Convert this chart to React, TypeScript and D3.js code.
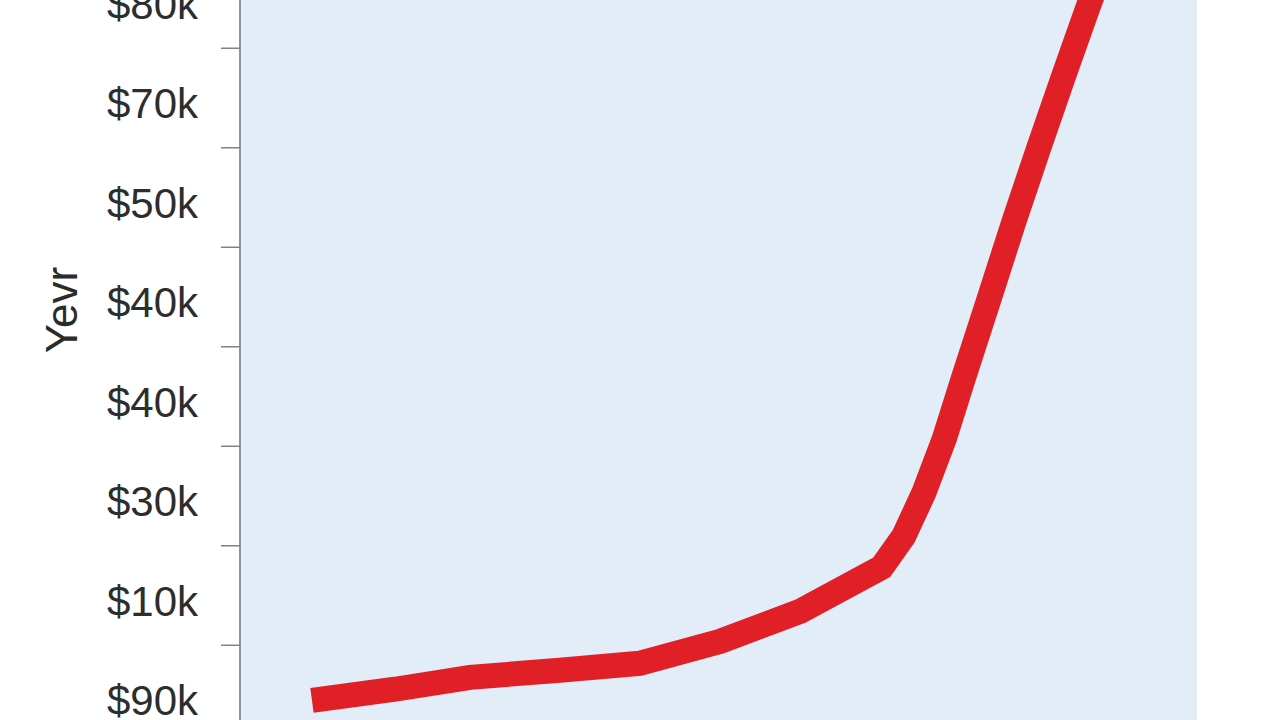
import * as d3 from "d3";

// price series (in $k) against a decimal year
const years = [
  2000, 2001.02, 2001.94, 2003.04, 2004.02, 2005.01, 2005.99, 2006.99, 2007.26,
  2007.51, 2007.76, 2008.0, 2008.31, 2008.61, 2008.92, 2009.23, 2009.53, 2009.9,
];
const prices = [
  4.47, 5.58, 6.78, 7.49, 8.19, 10.4, 13.42, 17.84, 20.95, 25.38, 30.8, 37.04,
  44.87, 52.51, 60.05, 67.39, 74.32, 82.46,
];

const tickValues = [10, 20, 30, 40, 50, 60, 70];
// labels sit between the tick marks, from bottom to top
const labelValues = [5, 15, 25, 35, 45, 55, 65, 75];
const tickLabels = ["$90k", "$10k", "$30k", "$40k", "$40k", "$50k", "$70k", "$80k"];
const yTitle = "Yevr";

const W = 1280;
const H = 720;
const plotLeft = 240;
const plotRight = 1197;

export default function App() {
  const x = d3.scaleLinear().domain([1999.117, 2010.859]).range([plotLeft, plotRight]);
  const y = d3.scaleLinear().domain([2.49, 74.85]).range([H, 0]);

  const data = years.map((yr, i) => ({ yr, v: prices[i] }));
  const line = d3
    .line<{ yr: number; v: number }>()
    .x((d) => x(d.yr))
    .y((d) => y(d.v))
    .curve(d3.curveLinear);

  const font = "'Liberation Sans', Arial, sans-serif";

  return (
    <div style={{ position: "fixed", left: 0, top: 0, width: W, height: H, background: "#fff" }}>
      <svg width={W} height={H} style={{ display: "block", overflow: "hidden" }}>
        {/* plot background */}
        <rect x={plotLeft} y={0} width={plotRight - plotLeft} height={H} fill="#e2edf8" />

        {/* axis line */}
        <line x1={plotLeft} x2={plotLeft} y1={0} y2={H} stroke="#8c9299" strokeWidth={2} />

        {/* tick marks */}
        {tickValues.map((t) => (
          <line
            key={t}
            x1={plotLeft - 19}
            x2={plotLeft}
            y1={y(t)}
            y2={y(t)}
            stroke="#7d8288"
            strokeWidth={1.5}
          />
        ))}

        {/* tick labels */}
        {labelValues.map((v, i) => (
          <text
            key={i}
            x={198}
            y={y(v)}
            dy="0.48em"
            textAnchor="end"
            fontFamily={font}
            fontSize={42}
            fill="#2d2d2d"
          >
            {tickLabels[i]}
          </text>
        ))}

        {/* y axis title */}
        <text
          transform={`translate(77, 310) rotate(-90)`}
          textAnchor="middle"
          fontFamily={font}
          fontSize={44}
          fill="#2b2b2b"
        >
          {yTitle}
        </text>

        {/* series */}
        <path
          d={line(data) ?? ""}
          fill="none"
          stroke="#e11f27"
          strokeWidth={25}
          strokeLinejoin="miter"
          strokeLinecap="butt"
        />
      </svg>
    </div>
  );
}
